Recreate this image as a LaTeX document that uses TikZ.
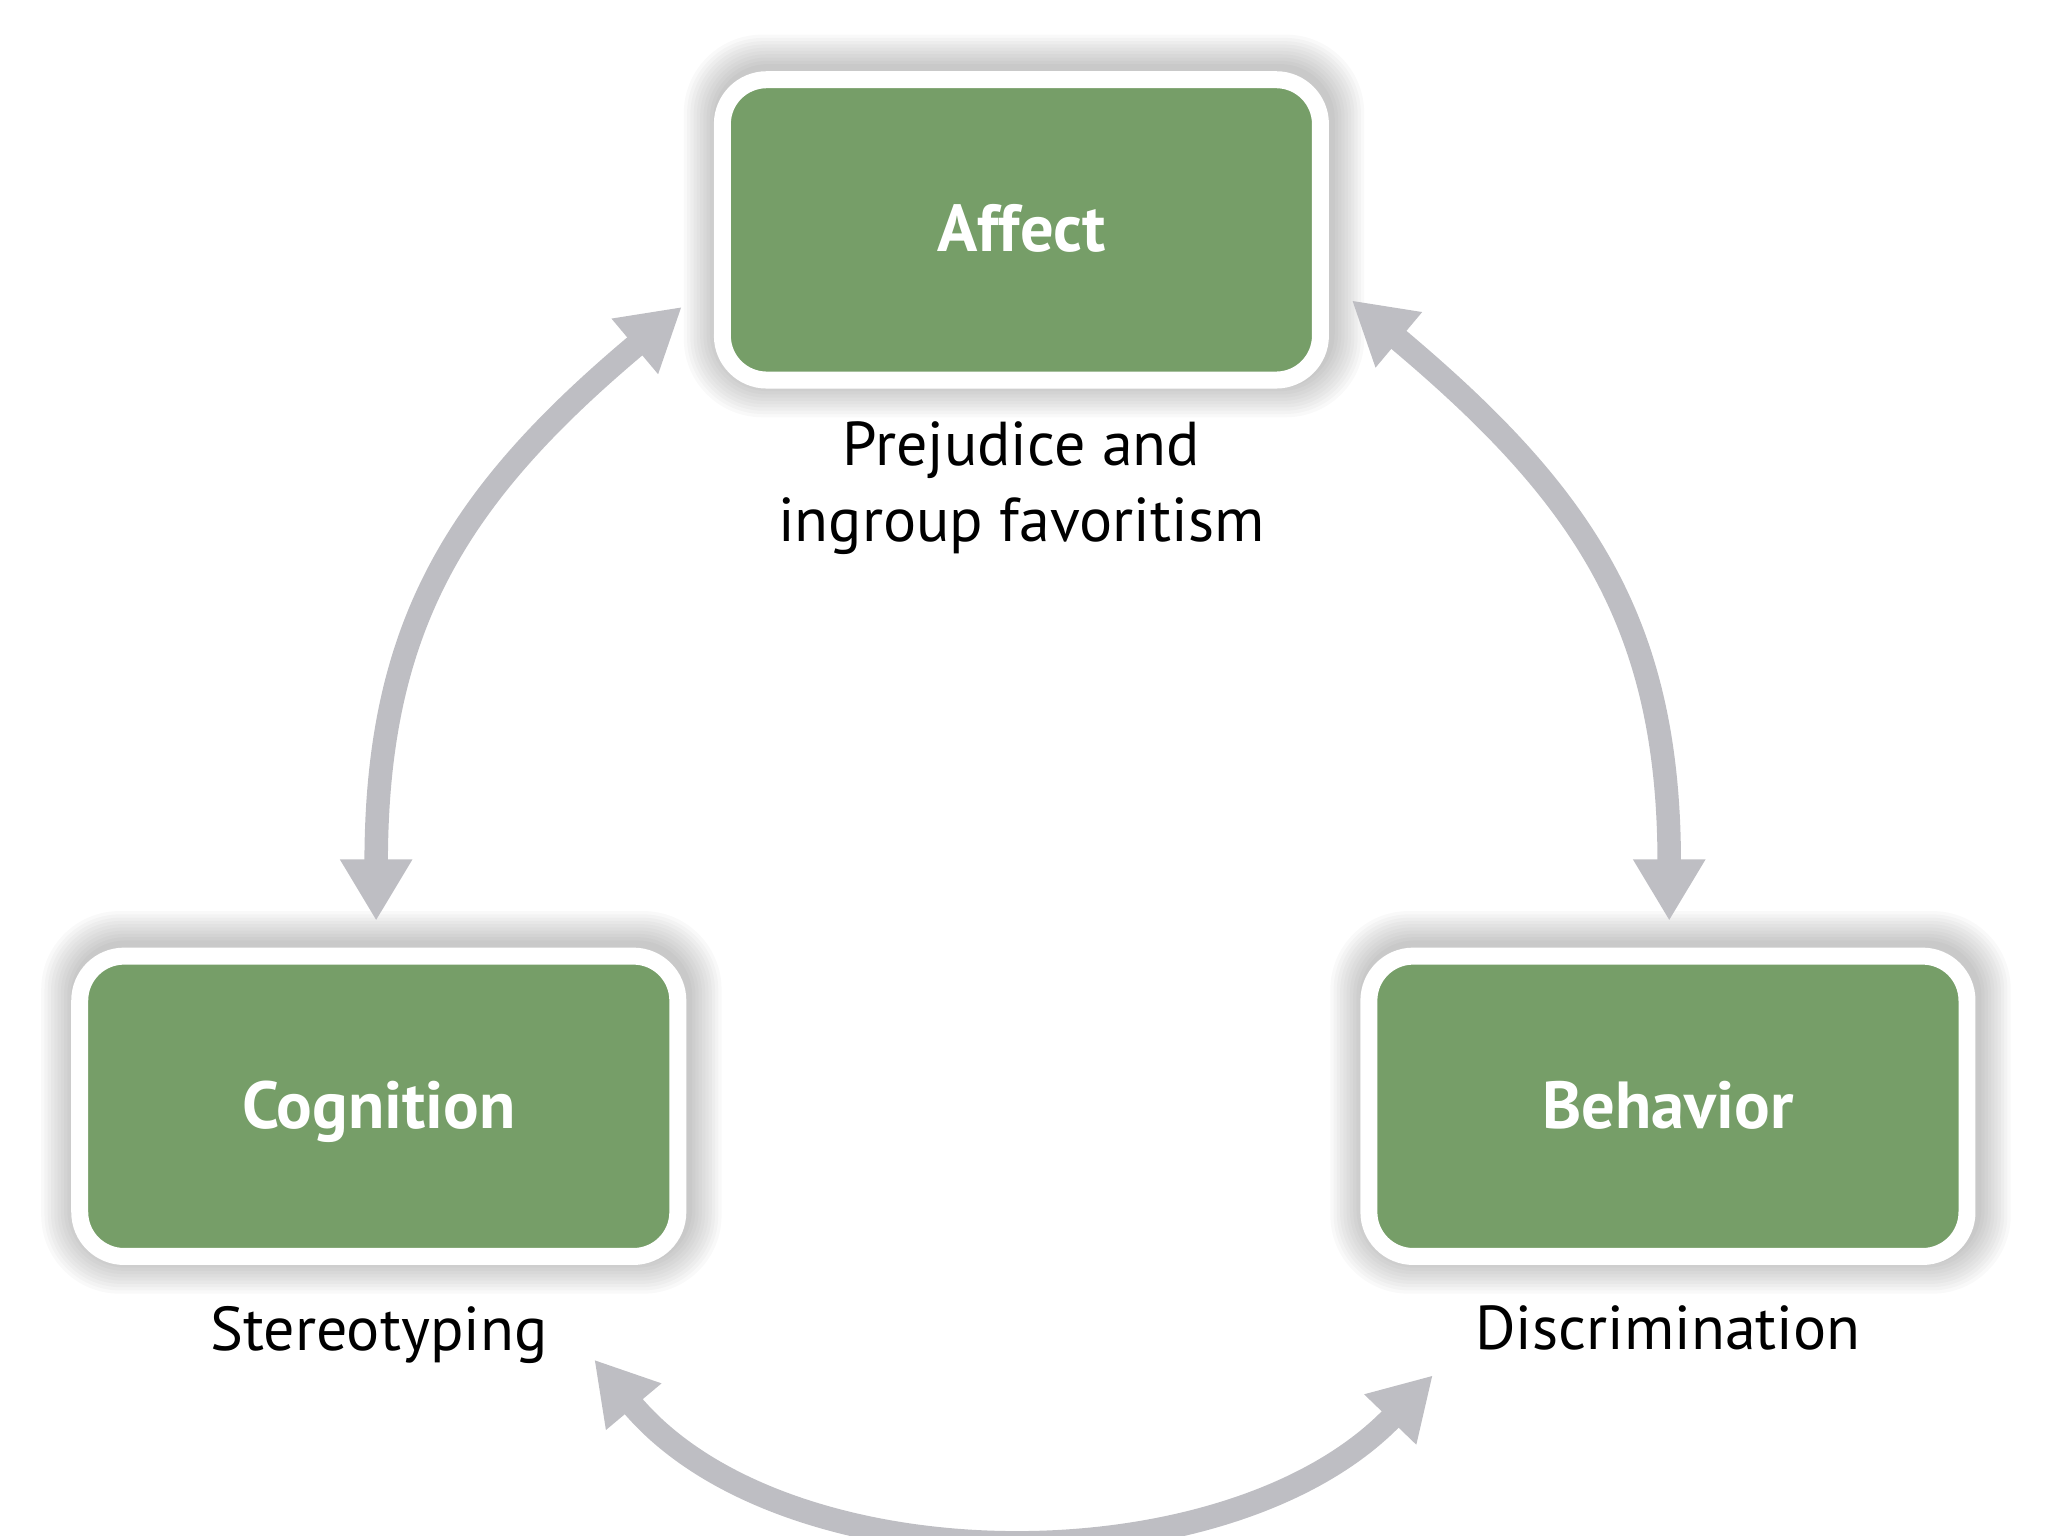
\documentclass[tikz,border=0pt]{standalone}
\usepackage{fontspec}
\setmainfont{PT Sans}
\usepackage{tikz}
\usetikzlibrary{arrows.meta,backgrounds,positioning}
\definecolor{boxgreen}{RGB}{118,158,104}
\definecolor{arcgray}{RGB}{190,190,195}
\tikzset{
  termbox/.style={rectangle, rounded corners=0.68cm, fill=boxgreen, draw=white,
    line width=0.26cm, minimum width=9.16cm, minimum height=4.6cm, text=white,
    text height=19pt, text depth=0pt, font=\bfseries\fontsize{29}{34}\selectfont},
  caption/.style={align=center, inner sep=0pt, font=\fontsize{27}{33}\selectfont},
  link/.style={arcgray, line width=0.36cm,
    {Triangle[width=1.04cm,length=0.94cm]}-{Triangle[width=1.04cm,length=0.94cm]}}
}

\begin{document}
\begin{tikzpicture}[x=0.02cm, y=-0.02cm]
    \useasboundingbox (0,0) rectangle (1568,1176);
    \node[termbox] (aff) at (782,176) {Affect};
    \node[termbox] (cog) at (290,847) {Cognition};
    \node[termbox] (beh) at (1277,847) {Behavior};
    \node[caption, below=0.5cm of aff] (affcap) {Prejudice and\\ingroup favoritism};
    \node[caption, below=0.62cm of cog] (cogcap) {Stereotyping};
    \node[caption, below=0.62cm of beh] (behcap) {Discrimination};
    % soft glow behind the boxes
    \begin{scope}[on background layer]
        \foreach \n in {aff,cog,beh} {
            \foreach \k in {1,...,10} {
                \fill[black, opacity=0.022, rounded corners=0.8cm+\k*0.04cm]
                    ([shift={(-\k*0.05cm+0.04cm, -\k*0.05cm+0.06cm)}]\n.south west) rectangle
                    ([shift={(\k*0.05cm+0.04cm, \k*0.05cm+0.06cm)}]\n.north east);
            }
        }
    \end{scope}
    % arc end points
    \coordinate (cogtop) at (288,705);
    \coordinate (affleft) at (522,235);
    \coordinate (affright) at (1035,230);
    \coordinate (behtop) at (1278,705);
    \coordinate (cogright) at (455,1041);
    \coordinate (behleft) at (1097,1053);
    \draw[link] (cogtop) to[out=90, in=220, looseness=1.1] (affleft);
    \draw[link] (affright) to[out=-40, in=90, looseness=1.1] (behtop);
    \draw[link] (cogright) to[out=-50, in=-134, looseness=0.9] (behleft);
\end{tikzpicture}
\end{document}
